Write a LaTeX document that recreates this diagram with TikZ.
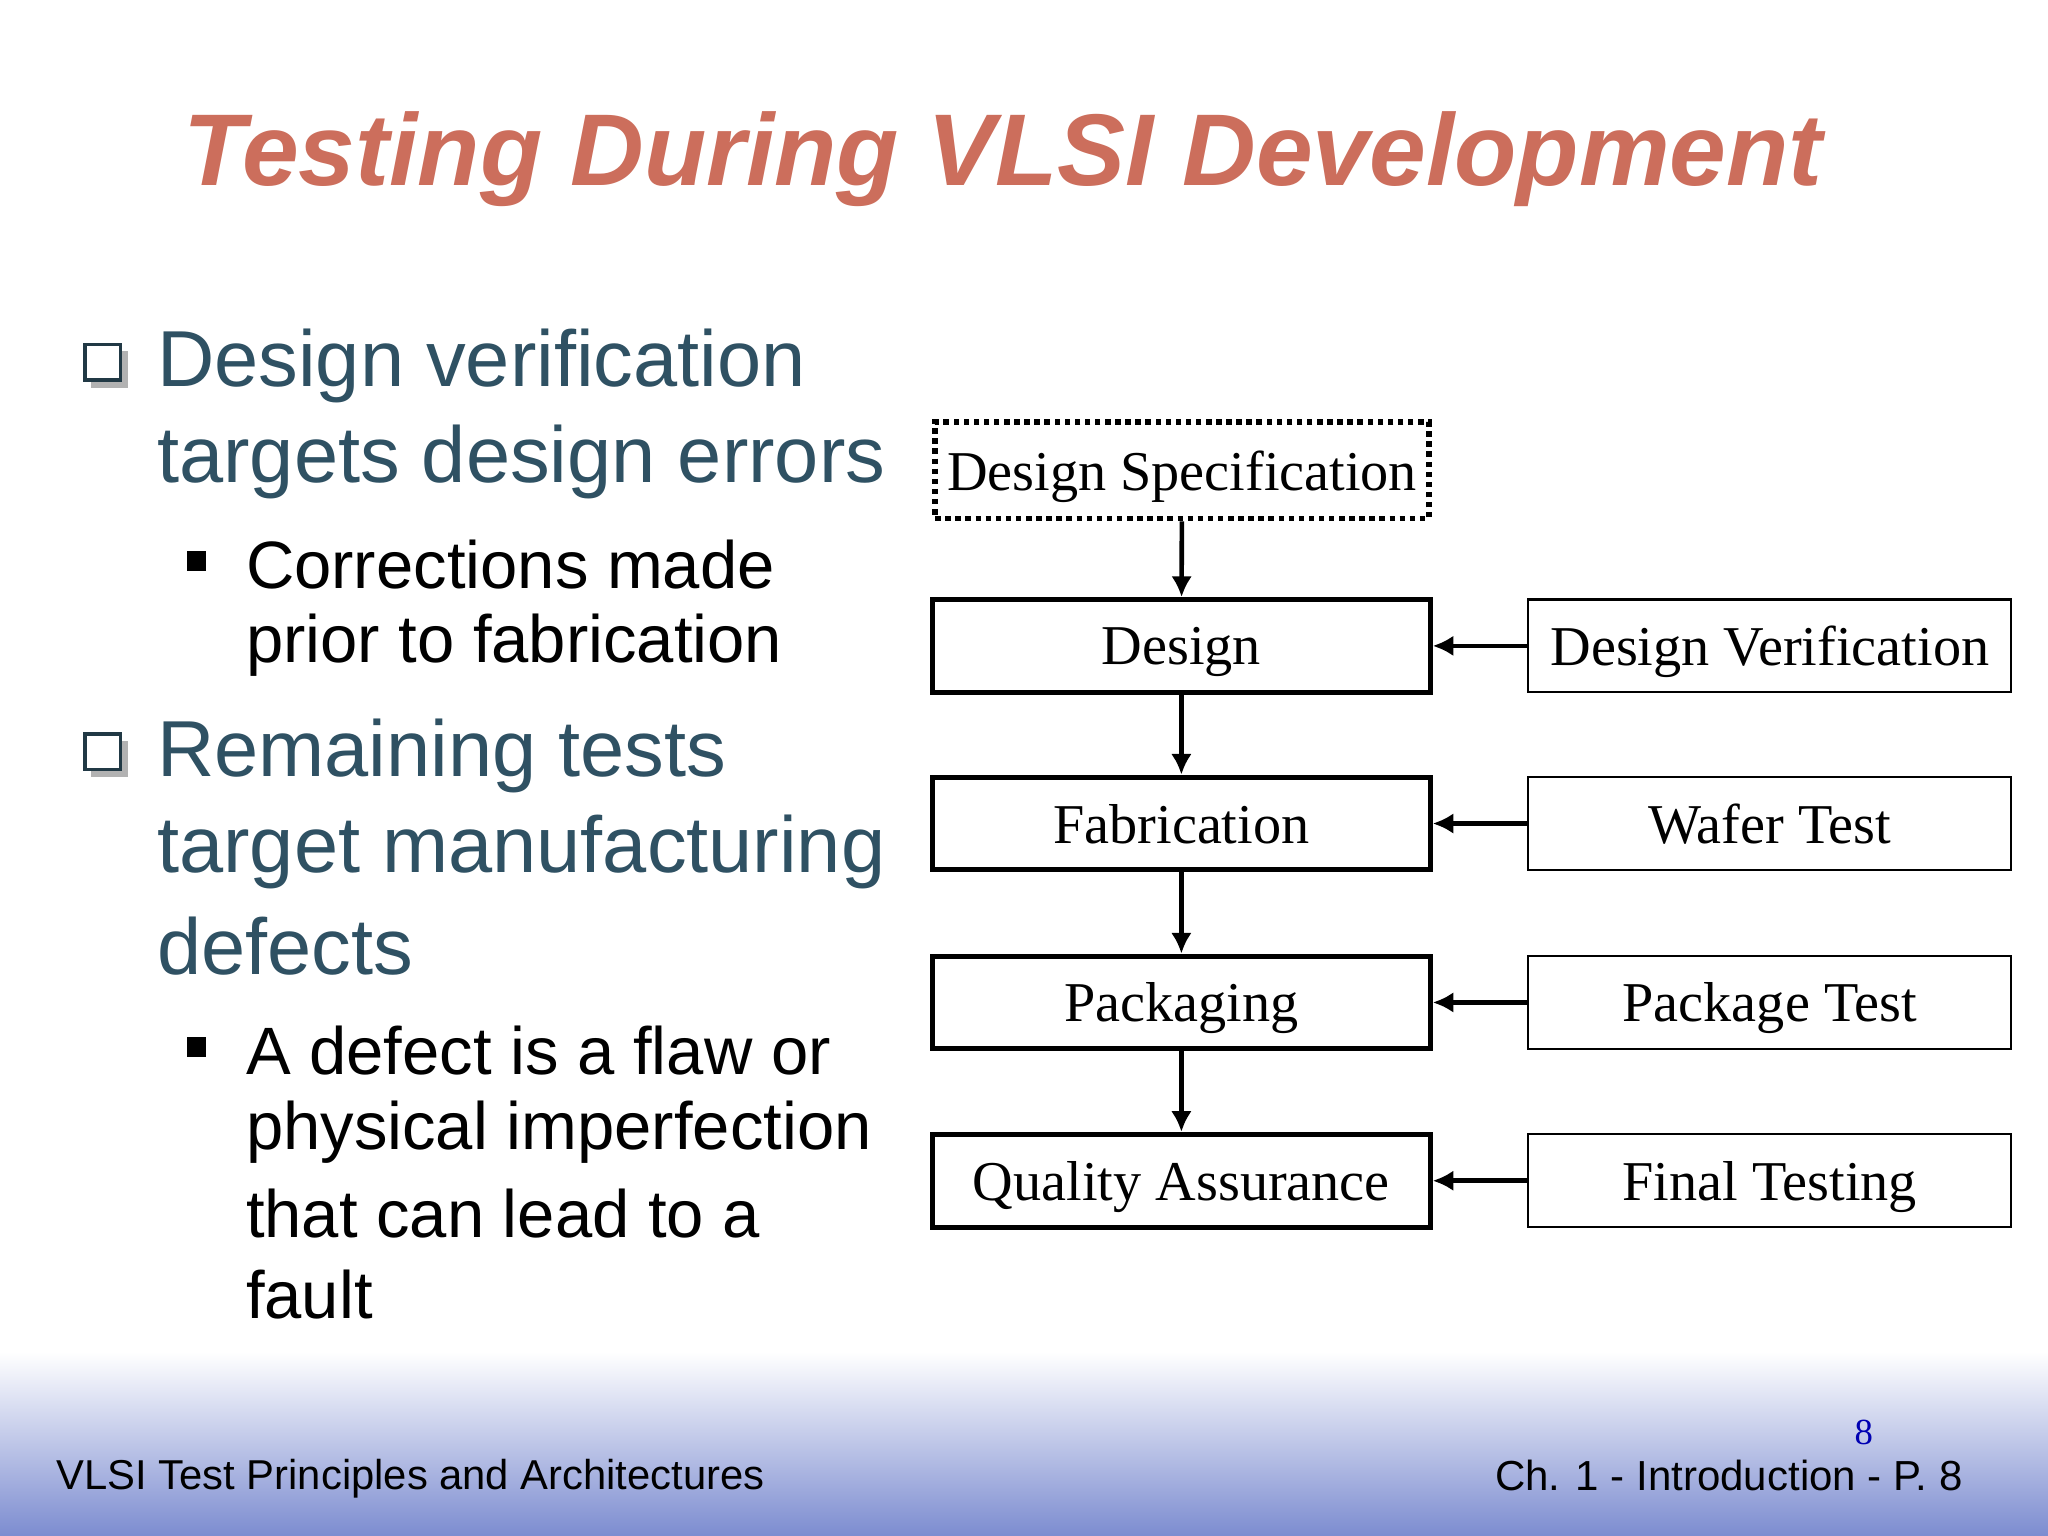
\documentclass[tikz,border=0pt]{standalone}
\usepackage{fontspec}
\setmainfont{Liberation Serif}
\setsansfont{Liberation Sans}
\usetikzlibrary{arrows.meta}
\definecolor{titlec}{HTML}{CC6E5C}
\definecolor{bodyc}{HTML}{2F5163}
\definecolor{footc}{HTML}{7C8CD0}
\newlength{\pu}\setlength{\pu}{0.02cm}
\tikzset{
 flowbox/.style={draw,line width=2.2pt,minimum width=381\pu,minimum height=71\pu,font=\fontsize{24.5}{28}\selectfont,inner sep=0pt,text depth=-3pt},
 testbox/.style={draw,line width=0.9pt,minimum width=370\pu,minimum height=71\pu,font=\fontsize{24.5}{28}\selectfont,inner sep=0pt,text depth=-3pt},
 arr/.style={line width=2pt,-{Latex[length=9pt,width=9pt]}},
 btxt/.style={anchor=west,font=\sffamily\fontsize{34.6}{40}\selectfont,text=bodyc,inner sep=0pt},
 stxt/.style={anchor=west,font=\sffamily\fontsize{29.2}{32}\selectfont,text=black,inner sep=0pt},
}
\begin{document}
\begin{tikzpicture}[x=0.02cm,y=-0.02cm]
\useasboundingbox (0,0) rectangle (1568,1176);
\fill[white] (0,0) rectangle (1568,1176);
\shade[top color=white,bottom color=footc] (0,1035) rectangle (1568,1176);
\node (title) at (768,122) {\resizebox{1255\pu}{!}{\sffamily\bfseries\itshape\fontsize{55}{60}\selectfont\color{titlec}Testing During VLSI Development}};
% bullets
\foreach \y [count=\i] in {280,578}{
 \fill[gray!60] (70,\y-11) rectangle (98,\y+17);
 \draw[fill=white,line width=1.4pt,draw=bodyc!70!black] (65,\y-16) rectangle (92,\y+11);
}
\node[btxt] (b1) at (120,280) {Design verification};
\node[btxt] (b2) at (120,354) {targets design errors};
\node[btxt] (b3) at (120,579) {Remaining tests};
\node[btxt] (b4) at (120,652) {target manufacturing};
\node[btxt] (b5) at (120,724) {defects};
\foreach \y in {430,802}{\fill (143,\y-8) rectangle (158,\y+7);}
\node[stxt] (s1) at (188,432) {Corrections made};
\node[stxt] (s2) at (188,494) {prior to fabrication};
\node[stxt] (s3) at (188,804) {A defect is a flaw or};
\node[stxt] (s4) at (188,867) {physical imperfection};
\node[stxt] (s5) at (188,929) {that can lead to a};
\node[stxt] (s6) at (188,991) {fault};
% flow
\node[draw,dotted,line width=2.4pt,minimum width=378\pu,minimum height=74\pu,font=\fontsize{24.5}{28}\selectfont,inner sep=0pt,text depth=-3pt] (spec) at (905,360) {Design Specification};
\node[flowbox] (des) at (904.5,494.5) {Design};
\node[flowbox] (fab) at (904.5,630.5) {Fabrication};
\node[flowbox] (pack) at (904.5,767.5) {Packaging};
\node[flowbox] (qa) at (904.5,904) {Quality Assurance};
\node[testbox] (dv) at (1355,494.5) {Design Verification};
\node[testbox] (wt) at (1355,630.5) {Wafer Test};
\node[testbox] (pt) at (1355,767.5) {Package Test};
\node[testbox] (ft) at (1355,904) {Final Testing};
\draw[arr] (spec) -- (des);
\draw[arr] (des) -- (fab);
\draw[arr] (fab) -- (pack);
\draw[arr] (pack) -- (qa);
\draw[arr] (dv) -- (des);
\draw[arr] (wt) -- (fab);
\draw[arr] (pt) -- (pack);
\draw[arr] (ft) -- (qa);
% footer
\node[anchor=west,inner sep=0pt] (fl) at (43,1132) {\resizebox{542\pu}{!}{\sffamily\fontsize{20}{24}\selectfont VLSI Test Principles and Architectures}};
\node[anchor=east,inner sep=0pt] (fr) at (1503,1130) {\resizebox{358\pu}{!}{\sffamily\fontsize{20}{24}\selectfont Ch. 1 - Introduction - P. 8}};
\node[text=blue!70!black,font=\fontsize{16}{18}\selectfont,inner sep=0pt] (pn) at (1427,1097) {8};
\end{tikzpicture}
\end{document}
